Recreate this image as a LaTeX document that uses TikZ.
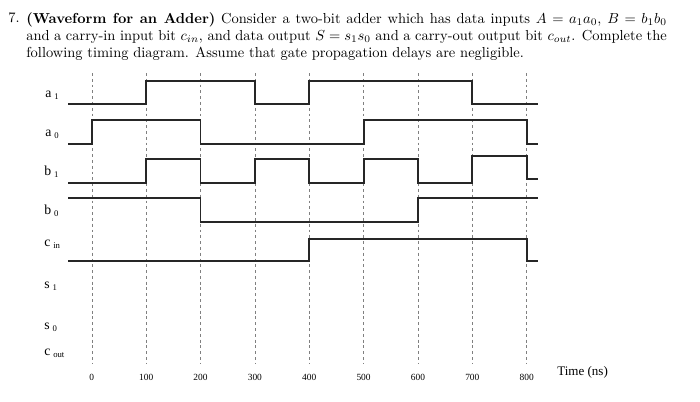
\documentclass[tikz,border=0pt]{standalone}
\usepackage{fontspec}
\newfontfamily\figfont{Liberation Serif}
\usepackage{tikz}
\tikzstyle{wave}=[
	line width=1.3pt,
	black!85,
	line join=miter
]
\tikzstyle{timeline}=[
	gray,
	thin,
	dash pattern=on 2pt off 2pt
]
\tikzstyle{siglabel}=[
	anchor=base west,
	inner sep=0pt,
	font=\figfont\fontsize{9.5}{10}\selectfont
]
\tikzstyle{ticklabel}=[
	anchor=base,
	inner sep=0pt,
	font=\figfont\fontsize{6.5}{8}\selectfont
]
\newcommand{\signame}[2]{#1\kern2pt\raisebox{-2pt}{\fontsize{6}{7}\selectfont #2}}

\begin{document}
\begin{tikzpicture}[x=0.69pt,y=-0.69pt]
\useasboundingbox (0,0) rectangle (700,401);

% Question text
\node[anchor=base west,inner sep=0pt] (num) at (8,22.5) {7.};
\node[anchor=north west,inner sep=0pt,text width=442pt,align=justify] (question) at (26,12)
{\textbf{(Waveform for an Adder)} Consider a two-bit adder which has data inputs $A=a_1a_0$, $B=b_1b_0$ and a carry-in input bit $c_{in}$, and data output $S=s_1s_0$ and a carry-out output bit $c_{out}$. Complete the following timing diagram. Assume that gate propagation delays are negligible.};

% Signal names
\node[siglabel] (a1) at (45,97) {\signame{a}{1}};
\node[siglabel] (a0) at (45,136) {\signame{a}{0}};
\node[siglabel] (b1) at (44,175) {\signame{b}{1}};
\node[siglabel] (b0) at (44,214) {\signame{b}{0}};
\node[siglabel] (cin) at (44,246) {\signame{c}{in}};
\node[siglabel] (s1) at (44,288) {\signame{s}{1}};
\node[siglabel] (s0) at (44,329) {\signame{s}{0}};
\node[siglabel] (cout) at (44,355) {\signame{c}{out}};

% Time axis label
\node[anchor=base west,inner sep=0pt,font=\figfont\fontsize{9}{10}\selectfont] (time) at (557,375) {Time (ns)};

\begin{scope}[shift={(91.8,0)},xscale=0.5436]

% Dashed time marks
\foreach \t in {0,100,...,800}{
	\draw[timeline] (\t,73) -- (\t,363);
	\node[ticklabel] (t\t) at (\t,380) {\t};
}

% Waveform a1
\draw[wave] (-43,104) -| (100,80.7) -| (300,104) -| (400,80.7) -| (700,104) -- (820,104);

% Waveform a0
\draw[wave] (-43,143.7) -| (0,120) -| (200,143.7) -| (500,120) -| (800,143.7) -- (820,143.7);

% Waveform b1
\draw[wave] (-43,183) -| (100,159.3) -| (200,183) -| (300,159.3) -| (400,183) -| (500,159.3) -| (600,183) -| (700,155.7) -| (800,178.7) -- (820,178.7);

% Waveform b0
\draw[wave] (-43,198.3) -| (200,222.3) -| (600,198.3) -- (820,198.3);

% Waveform cin
\draw[wave] (-43,261.3) -| (400,238.7) -| (800,261.3) -- (820,261.3);

\end{scope}
\end{tikzpicture}
\end{document}
